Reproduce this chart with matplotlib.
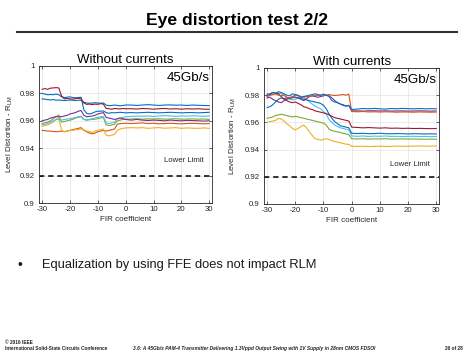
import matplotlib
matplotlib.use("Agg")
import matplotlib.pyplot as plt
from matplotlib.lines import Line2D

plt.rcParams['font.family'] = ['Liberation Sans', 'DejaVu Sans']
plt.rcParams['mathtext.fontset'] = 'custom'
plt.rcParams['mathtext.rm'] = 'Liberation Sans'
plt.rcParams['axes.unicode_minus'] = False

# ---------------- data ----------------
x_fir = list(range(-30, 1)) + list(range(2, 31, 2))

# Left panel: without currents
wo_darkred = [0.983, 0.9835, 0.983, 0.9838, 0.984, 0.9842, 0.984,
              0.978, 0.976, 0.9765, 0.976, 0.9758, 0.9762, 0.9765, 0.976,
              0.973, 0.972, 0.9722, 0.9718, 0.9722, 0.972, 0.9725, 0.9722,
              0.969, 0.9688, 0.9685, 0.969, 0.9688, 0.9686, 0.969, 0.9688,
              0.9688, 0.9686, 0.969, 0.9688, 0.9685, 0.9688, 0.969, 0.9686,
              0.9688, 0.9685, 0.9688, 0.9686, 0.9688, 0.9685, 0.9684]
wo_blue = [0.980, 0.9795, 0.979, 0.9792, 0.979, 0.9795, 0.979,
           0.9775, 0.977, 0.9772, 0.9775, 0.977, 0.9768, 0.977, 0.9772,
           0.968, 0.9655, 0.965, 0.9655, 0.9665, 0.967, 0.967, 0.9672,
           0.966, 0.9655, 0.966, 0.9658, 0.966, 0.9662, 0.966, 0.9658,
           0.966, 0.9658, 0.966, 0.9662, 0.966, 0.9658, 0.966, 0.9662,
           0.966, 0.9658, 0.966, 0.966, 0.9658, 0.966, 0.9662]
wo_blue2 = [0.976, 0.9758, 0.9755, 0.9752, 0.9755, 0.975, 0.9752,
            0.975, 0.9748, 0.975, 0.9752, 0.975, 0.9748, 0.975, 0.975,
            0.9735, 0.973, 0.9728, 0.973, 0.9732, 0.973, 0.9728, 0.973,
            0.9715, 0.971, 0.9712, 0.9715, 0.9712, 0.971, 0.9712, 0.9715,
            0.9715, 0.9712, 0.9715, 0.9718, 0.9715, 0.9712, 0.9715, 0.9716,
            0.9714, 0.9715, 0.9712, 0.9715, 0.9713, 0.9712, 0.971]
wo_lightblue = [0.957, 0.9575, 0.958, 0.959, 0.960, 0.961, 0.961,
                0.9605, 0.961, 0.9612, 0.9615, 0.962, 0.9625, 0.963, 0.9635,
                0.961, 0.9605, 0.961, 0.9615, 0.962, 0.9625, 0.963, 0.963,
                0.9585, 0.958, 0.9585, 0.959, 0.9615, 0.962, 0.9625, 0.963,
                0.9632, 0.9635, 0.9633, 0.9635, 0.9632, 0.9635, 0.9638, 0.9635,
                0.9633, 0.9635, 0.9634, 0.9636, 0.9635, 0.9633, 0.9635]
wo_purple = [0.960, 0.9605, 0.961, 0.962, 0.9625, 0.963, 0.963,
             0.963, 0.9635, 0.964, 0.965, 0.9655, 0.966, 0.967, 0.9675,
             0.964, 0.963, 0.9632, 0.9635, 0.964, 0.965, 0.9655, 0.966,
             0.9625, 0.962, 0.9615, 0.961, 0.9615, 0.962, 0.9615, 0.961,
             0.9605, 0.961, 0.9605, 0.9602, 0.9605, 0.9603, 0.960, 0.9605,
             0.9602, 0.960, 0.9603, 0.9602, 0.960, 0.9598, 0.960]
wo_green = [0.958, 0.9585, 0.959, 0.960, 0.9615, 0.963, 0.9642,
            0.959, 0.9595, 0.960, 0.9605, 0.961, 0.962, 0.9625, 0.963,
            0.961, 0.9605, 0.9608, 0.961, 0.9612, 0.9615, 0.962, 0.9625,
            0.957, 0.9565, 0.957, 0.9575, 0.960, 0.9605, 0.961, 0.9612,
            0.9613, 0.9615, 0.9612, 0.9614, 0.9613, 0.9615, 0.9612, 0.9613,
            0.9615, 0.9612, 0.9613, 0.9614, 0.9612, 0.9613, 0.961]
wo_yellow = [0.956, 0.9565, 0.957, 0.958, 0.959, 0.961, 0.962,
             0.953, 0.952, 0.9525, 0.953, 0.953, 0.9535, 0.9535, 0.954,
             0.9535, 0.9525, 0.952, 0.9515, 0.9525, 0.953, 0.9535, 0.954,
             0.9495, 0.949, 0.9495, 0.950, 0.953, 0.954, 0.9545, 0.9548,
             0.955, 0.9548, 0.955, 0.9545, 0.9548, 0.955, 0.9546, 0.9548,
             0.955, 0.9545, 0.9548, 0.9546, 0.9545, 0.9548, 0.9545]
wo_orange = [0.953, 0.9528, 0.9525, 0.9525, 0.9522, 0.952, 0.9522,
             0.9525, 0.952, 0.9525, 0.953, 0.9535, 0.954, 0.9545, 0.955,
             0.953, 0.952, 0.951, 0.9505, 0.951, 0.952, 0.9525, 0.953,
             0.9525, 0.953, 0.9535, 0.954, 0.9575, 0.958, 0.958, 0.9582,
             0.958, 0.9582, 0.9585, 0.958, 0.9582, 0.9578, 0.958, 0.9582,
             0.958, 0.9578, 0.958, 0.9582, 0.958, 0.9578, 0.958]

# Right panel: with currents
w_orange = [0.979, 0.980, 0.9805, 0.981, 0.980, 0.9795, 0.980,
            0.9785, 0.978, 0.979, 0.980, 0.9795, 0.979, 0.9785, 0.979,
            0.979, 0.9795, 0.980, 0.9798, 0.980, 0.9802, 0.980, 0.9805,
            0.980, 0.9798, 0.980, 0.9802, 0.9805, 0.980, 0.9808, 0.968,
            0.9678, 0.968, 0.9677, 0.9678, 0.9676, 0.9678, 0.9677, 0.9675,
            0.9677, 0.9676, 0.9675, 0.9677, 0.9676, 0.9675, 0.9676]
w_blue = [0.981, 0.9805, 0.982, 0.9815, 0.9825, 0.982, 0.981,
          0.980, 0.9795, 0.981, 0.9805, 0.980, 0.9785, 0.979, 0.9795,
          0.980, 0.9805, 0.981, 0.9805, 0.980, 0.9808, 0.980, 0.979,
          0.976, 0.975, 0.9745, 0.9735, 0.9725, 0.972, 0.9725, 0.9695,
          0.9698, 0.9702, 0.970, 0.9703, 0.970, 0.9698, 0.9702, 0.970,
          0.9703, 0.9701, 0.970, 0.9702, 0.970, 0.9701, 0.970]
w_purple = [0.978, 0.9785, 0.977, 0.976, 0.975, 0.9745, 0.976,
            0.977, 0.978, 0.979, 0.9785, 0.978, 0.977, 0.976, 0.9775,
            0.979, 0.9795, 0.979, 0.9785, 0.979, 0.9795, 0.980, 0.9795,
            0.978, 0.976, 0.9745, 0.9735, 0.973, 0.972, 0.9725, 0.9685,
            0.9685, 0.9683, 0.9685, 0.9686, 0.9684, 0.9685, 0.9683, 0.9684,
            0.9685, 0.9683, 0.9684, 0.9685, 0.9684, 0.9683, 0.9684]
w_darkred = [0.980, 0.981, 0.982, 0.9815, 0.981, 0.979, 0.977,
             0.976, 0.975, 0.9745, 0.975, 0.974, 0.973, 0.9715, 0.971,
             0.970, 0.9695, 0.9685, 0.968, 0.9675, 0.967, 0.9665, 0.9655,
             0.9645, 0.9635, 0.963, 0.9625, 0.962, 0.9615, 0.961, 0.9565,
             0.9563, 0.956, 0.9562, 0.956, 0.9558, 0.956, 0.9557, 0.9558,
             0.9556, 0.9557, 0.9555, 0.9556, 0.9555, 0.9554, 0.9555]
w_blue2 = [0.971, 0.9715, 0.973, 0.975, 0.977, 0.978, 0.9775,
           0.978, 0.9775, 0.978, 0.9785, 0.978, 0.9775, 0.977, 0.9765,
           0.976, 0.9755, 0.975, 0.9745, 0.974, 0.9725, 0.970, 0.966,
           0.963, 0.9605, 0.959, 0.9575, 0.957, 0.9565, 0.956, 0.952,
           0.9518, 0.952, 0.9517, 0.9518, 0.952, 0.9517, 0.9516, 0.9518,
           0.9517, 0.9515, 0.9517, 0.9516, 0.9515, 0.9516, 0.9515]
w_lightblue = [0.979, 0.980, 0.9805, 0.981, 0.9815, 0.981, 0.980,
               0.978, 0.977, 0.9765, 0.977, 0.978, 0.9785, 0.978, 0.977,
               0.975, 0.9735, 0.972, 0.971, 0.970, 0.968, 0.966, 0.962,
               0.960, 0.958, 0.957, 0.956, 0.9555, 0.955, 0.9545, 0.950,
               0.9498, 0.950, 0.9497, 0.9499, 0.9498, 0.950, 0.9497, 0.9498,
               0.9496, 0.9497, 0.9498, 0.9496, 0.9497, 0.9495, 0.9496]
w_green = [0.963, 0.9635, 0.964, 0.965, 0.9655, 0.966, 0.9655,
           0.965, 0.9645, 0.964, 0.9645, 0.964, 0.9635, 0.963, 0.9625,
           0.962, 0.9615, 0.961, 0.9605, 0.960, 0.9595, 0.958, 0.955,
           0.954, 0.9535, 0.953, 0.9525, 0.952, 0.9515, 0.951, 0.948,
           0.9478, 0.948, 0.9477, 0.9479, 0.9478, 0.948, 0.9477, 0.9478,
           0.9479, 0.9477, 0.9478, 0.9477, 0.9476, 0.9477, 0.9476]
w_yellow = [0.960, 0.9605, 0.961, 0.9615, 0.963, 0.9625, 0.961,
            0.959, 0.9575, 0.9555, 0.9545, 0.9555, 0.957, 0.958, 0.956,
            0.953, 0.9505, 0.948, 0.9475, 0.947, 0.9475, 0.948, 0.9475,
            0.9465, 0.946, 0.9455, 0.945, 0.9445, 0.944, 0.9438, 0.9425,
            0.9423, 0.9425, 0.9422, 0.9424, 0.9425, 0.9423, 0.9424, 0.9426,
            0.9425, 0.9424, 0.9426, 0.9427, 0.9425, 0.9426, 0.9427]

lower_limit = 0.92
x_ticks = [-30, -20, -10, 0, 10, 20, 30]
y_ticks = [0.9, 0.92, 0.94, 0.96, 0.98, 1.0]
y_ticklabels = ['0.9', '0.92', '0.94', '0.96', '0.98', '1']

C_BLUE = (0.0, 0.447, 0.741)
C_ORANGE = (0.85, 0.325, 0.098)
C_YELLOW = (0.929, 0.694, 0.125)
C_PURPLE = (0.494, 0.184, 0.556)
C_GREEN = (0.466, 0.674, 0.188)
C_LBLUE = (0.301, 0.745, 0.933)
C_DRED = (0.635, 0.078, 0.184)

left_series = [(wo_orange, C_ORANGE), (wo_yellow, C_YELLOW), (wo_green, C_GREEN),
               (wo_lightblue, C_LBLUE), (wo_purple, C_PURPLE), (wo_blue, C_BLUE),
               (wo_blue2, C_BLUE), (wo_darkred, C_DRED)]
right_series = [(w_yellow, C_YELLOW), (w_green, C_GREEN), (w_lightblue, C_LBLUE),
                (w_blue2, C_BLUE), (w_darkred, C_DRED), (w_purple, C_PURPLE),
                (w_orange, C_ORANGE), (w_blue, C_BLUE)]

W, H = 474, 355
fig = plt.figure(figsize=(4.74, 3.55), dpi=100)
fig.patch.set_facecolor('white')

def fx(px):
    return px / W

def fy(py):
    return 1 - py / H

TXT = '#262626'

def make_panel(rect, series, title, ll_y, ylab_x):
    ax = fig.add_axes(rect)
    for vals, col in series:
        ax.plot(x_fir, vals, color=col, lw=0.8)
    ax.axhline(lower_limit, color='black', lw=1.1, ls=(0, (3.5, 2.5)))
    ax.set_xlim(-31, 31)
    ax.set_ylim(0.9, 1.0)
    ax.set_xticks(x_ticks)
    ax.set_yticks(y_ticks)
    ax.set_yticklabels(y_ticklabels)
    ax.grid(True, color='#e3e3e3', lw=0.5)
    ax.set_axisbelow(True)
    ax.tick_params(direction='in', length=2, width=0.5, labelsize=5.6,
                   colors=TXT, top=True, right=True)
    ax.tick_params(axis='y', pad=3.5)
    ax.tick_params(axis='x', pad=2.5)
    for s in ax.spines.values():
        s.set_color('#262626')
        s.set_linewidth(0.6)
    ax.set_title(title, fontsize=9.5, color='black', pad=2.5)
    ax.text(0.985, 0.955, '45Gb/s', transform=ax.transAxes, ha='right',
            va='top', fontsize=9.6, color='black')
    ax.text(20.8, ll_y, 'Lower Limit', ha='center', va='center',
            fontsize=5.6, color=TXT)
    ax.set_xlabel('FIR coefficient', fontsize=5.8, color=TXT)
    ax.xaxis.set_label_coords(0.5, -0.095)
    ax.set_ylabel(r'Level Distortion - R$_{\mathrm{LM}}$', fontsize=5.8, color=TXT)
    ax.yaxis.set_label_coords(ylab_x, 0.5)
    return ax

axL = make_panel([fx(39.3), fy(203), fx(212) - fx(39.3), (203 - 66) / H],
                 left_series, 'Without currents', 0.931, -0.138)
axR = make_panel([fx(264.3), fy(204), fx(439) - fx(264.3), (204 - 68) / H],
                 right_series, 'With currents', 0.929, -0.148)

# Slide title and rule
fig.text(0.5, fy(25), 'Eye distortion test 2/2', ha='center', va='baseline',
         fontsize=12.6, fontweight='bold', color='black')
fig.add_artist(Line2D([fx(17), fx(457)], [fy(31.7), fy(31.7)],
                      color='#333333', lw=1.5))

# Bullet
fig.text(fx(18), fy(265), '\u2022', ha='left', va='center', fontsize=10,
         color='#1a1a1a')
fig.text(fx(42), fy(265), 'Equalization by using FFE does not impact RLM',
         ha='left', va='center', fontsize=9.3, color='#1a1a1a')

# Footer
fig.text(fx(5), fy(342), '\u00a9 2016 IEEE', ha='left', va='center',
         fontsize=3.4, fontweight='bold', color='#222222')
fig.text(fx(5), fy(349), 'International Solid-State Circuits Conference',
         ha='left', va='center', fontsize=3.4, fontweight='bold', color='#222222')
fig.text(fx(133), fy(348.5),
         '3.6: A 45Gb/s PAM-4 Transmitter Delivering 1.3Vppd Output Swing with 1V Supply in 28nm CMOS FDSOI',
         ha='left', va='center', fontsize=3.5, fontweight='bold', style='italic',
         color='#222222')
fig.text(fx(463), fy(348.5), '26 of 28', ha='right', va='center',
         fontsize=3.4, fontweight='bold', color='#222222')

fig.savefig('out.png', dpi=100, facecolor='white')
